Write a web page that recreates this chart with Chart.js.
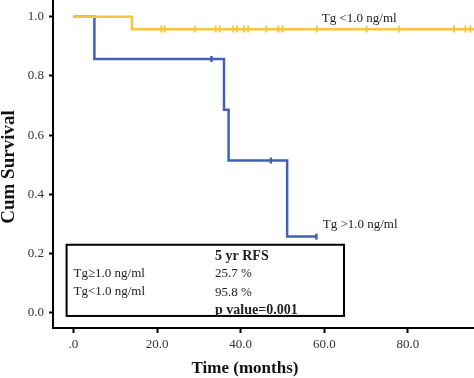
<!DOCTYPE html>
<html>
<head>
<meta charset="utf-8">
<script src="https://cdn.jsdelivr.net/npm/chart.js@4.4.1/dist/chart.umd.min.js"></script>
<style>
html,body{margin:0;padding:0;background:#fff;}
#wrap{width:474px;height:378px;position:relative;}
</style>
</head>
<body>
<div id="wrap"><canvas id="c" width="474" height="378"></canvas></div>
<script>
// ---- data ----
const lowTimes   = [0, 14.0, 97];            // Tg < 1.0 ng/ml
const lowSurv    = [1.0, 0.958, 0.958];
const lowCensor  = [21.0, 21.8, 29.0, 34.0, 35.0, 38.2, 39.1, 40.8, 41.8, 46.1, 49.0, 50.0, 58.2, 70.1, 77.9, 91.0, 93.7, 94.9];

const highTimes  = [0, 5.0, 36.0, 37.1, 51.1, 58.1];   // Tg >= 1.0 ng/ml
const highSurv   = [1.0, 0.857, 0.686, 0.514, 0.257, 0.257];
const highCensor = [33.0, 47.2, 58.1];

const xTicks = [0, 20, 40, 60, 80];
const xTickLabels = ['.0', '20.0', '40.0', '60.0', '80.0'];
const yTicks = [0, 0.2, 0.4, 0.6, 0.8, 1.0];
const yTickLabels = ['0.0', '0.2', '0.4', '0.6', '0.8', '1.0'];

const curveLabels = ['Tg <1.0 ng/ml', 'Tg >1.0 ng/ml'];
const tableHeader = '5 yr RFS';
const tableGroups = ['Tg\u22651.0 ng/ml', 'Tg<1.0 ng/ml'];
const tableRates  = ['25.7 %', '95.8 %'];
const tablePValue = 'p value=0.001';

const xTitle = 'Time (months)';
const yTitle = 'Cum Survival';

const YELLOW = '#F8C443';
const BLUE = '#4161B4';
const SERIF = '"Liberation Serif", "Times New Roman", serif';

function survAt(times, surv, t) {
  let s = surv[0];
  for (let i = 0; i < times.length; i++) { if (times[i] <= t) s = surv[i]; }
  return s;
}
const pts = (xs, ys) => xs.map((x, i) => ({x: x, y: ys[i]}));
const censorPts = (cs, times, surv) => cs.map(t => ({x: t, y: survAt(times, surv, t)}));
const noPad = s => { s.paddingTop = 0; s.paddingBottom = 0; s.paddingLeft = 0; s.paddingRight = 0; };

const annotations = {
  id: 'annotations',
  afterDraw(chart) {
    const ctx = chart.ctx;
    const xs = chart.scales.x, ys = chart.scales.y;
    const X = v => xs.getPixelForValue(v), Y = v => ys.getPixelForValue(v);
    ctx.save();
    ctx.fillStyle = '#222';
    ctx.textBaseline = 'alphabetic';
    ctx.textAlign = 'left';
    // curve labels
    ctx.font = '13px ' + SERIF;
    ctx.fillText(curveLabels[0], X(59.4), Y(0.982));
    ctx.fillText(curveLabels[1], X(59.6), Y(0.285));
    // summary box
    ctx.strokeStyle = '#000';
    ctx.lineWidth = 2;
    const bx0 = X(-1.65), bx1 = X(64.7), by0 = Y(0.2295), by1 = Y(-0.011);
    ctx.strokeRect(bx0, by0, bx1 - bx0, by1 - by0);
    ctx.font = 'bold 14px ' + SERIF;
    ctx.fillText(tableHeader, X(33.85), Y(0.178));
    ctx.font = '13px ' + SERIF;
    ctx.fillText(tableGroups[0], X(0), Y(0.1205));
    ctx.fillText(tableRates[0], X(33.85), Y(0.1205));
    ctx.fillText(tableGroups[1], X(0), Y(0.0597));
    ctx.fillText(tableRates[1], X(33.85), Y(0.0580));
    ctx.font = 'bold 14px ' + SERIF;
    ctx.fillText(tablePValue, X(33.85), Y(-0.0044));
    // axis titles
    ctx.fillStyle = '#111';
    ctx.font = 'bold 17px ' + SERIF;
    ctx.textAlign = 'center';
    ctx.fillText(xTitle, 245, 373);
    ctx.save();
    ctx.translate(14, 167);
    ctx.rotate(-Math.PI / 2);
    ctx.font = 'bold 19px ' + SERIF;
    ctx.fillText(yTitle, 0, 0);
    ctx.restore();
    ctx.restore();
  }
};

new Chart(document.getElementById('c'), {
  type: 'scatter',
  data: {
    datasets: [
      { type: 'line', data: pts(lowTimes, lowSurv), stepped: true, borderColor: YELLOW, borderWidth: 2.5, pointRadius: 0, fill: false, order: 1 },
      { type: 'scatter', data: censorPts(lowCensor, lowTimes, lowSurv), pointStyle: 'line', rotation: 90, radius: 3.5, borderColor: YELLOW, borderWidth: 2, backgroundColor: YELLOW, order: 0 },
      { type: 'line', data: pts(highTimes, highSurv), stepped: true, borderColor: BLUE, borderWidth: 2.5, pointRadius: 0, fill: false, order: 3 },
      { type: 'scatter', data: censorPts(highCensor, highTimes, highSurv), pointStyle: 'line', rotation: 90, radius: 3, borderColor: BLUE, borderWidth: 2.5, backgroundColor: BLUE, order: 2 }
    ]
  },
  options: {
    responsive: false,
    animation: false,
    layout: { padding: 0, autoPadding: false },
    plugins: { legend: { display: false }, tooltip: { enabled: false } },
    scales: {
      x: {
        type: 'linear',
        min: -4.9, max: 95.79,
        afterBuildTicks: s => { s.ticks = xTicks.map(v => ({value: v})); },
        afterFit: s => { s.height = 50; noPad(s); },
        ticks: {
          callback: (v) => xTickLabels[xTicks.indexOf(v)],
          font: { family: SERIF, size: 13 }, color: '#333', padding: 4, maxRotation: 0, autoSkip: false
        },
        grid: { drawOnChartArea: false, drawTicks: true, tickLength: 5, tickWidth: 2, tickColor: '#000' },
        border: { display: true, color: '#000', width: 2 }
      },
      y: {
        type: 'linear',
        min: -0.0517, max: 1.0564,
        afterBuildTicks: s => { s.ticks = yTicks.map(v => ({value: v})); },
        afterFit: s => { s.width = 53; noPad(s); },
        ticks: {
          callback: (v) => yTickLabels[yTicks.findIndex(t => Math.abs(t - v) < 1e-9)],
          font: { family: SERIF, size: 13 }, color: '#333', padding: 5, autoSkip: false
        },
        grid: { drawOnChartArea: false, drawTicks: true, tickLength: 4, tickWidth: 2, tickColor: '#000' },
        border: { display: true, color: '#000', width: 2 }
      }
    }
  },
  plugins: [annotations]
});
</script>
</body>
</html>
